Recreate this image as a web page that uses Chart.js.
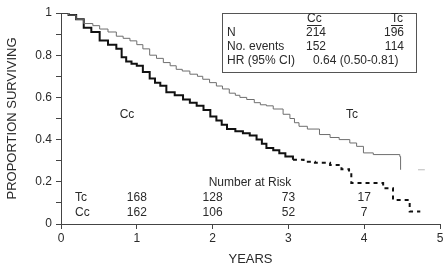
<!DOCTYPE html>
<html>
<head>
<meta charset="utf-8">
<script src="https://cdn.jsdelivr.net/npm/chart.js@4/dist/chart.umd.min.js"></script>
<style>
  html, body { margin: 0; padding: 0; background: #fff; }
  #wrap { width: 447px; height: 273px; }
</style>
</head>
<body>
<div id="wrap"><canvas id="myChart" width="447" height="273"></canvas></div>
<script>
'use strict';
// survival curves (years, proportion surviving), step points
const ccYears = [0, 0.1, 0.2, 0.3, 0.4, 0.51, 0.62, 0.73, 0.8, 0.86, 0.93, 1.0, 1.08, 1.17, 1.24, 1.31, 1.39, 1.5, 1.61, 1.7, 1.79, 1.88, 1.97, 2.05, 2.12, 2.19, 2.3, 2.4, 2.49, 2.58, 2.65, 2.71, 2.8, 2.88, 2.96, 3.06, 3.2, 3.35, 3.55, 3.7, 3.8, 3.83, 4.25, 4.38, 4.6, 4.74];
const ccSurv = [1, 0.99, 0.97, 0.93, 0.91, 0.87, 0.85, 0.83, 0.79, 0.77, 0.76, 0.75, 0.72, 0.69, 0.67, 0.655, 0.625, 0.61, 0.59, 0.575, 0.56, 0.54, 0.51, 0.49, 0.47, 0.45, 0.44, 0.43, 0.42, 0.4, 0.38, 0.36, 0.35, 0.335, 0.32, 0.305, 0.295, 0.29, 0.28, 0.26, 0.241, 0.194, 0.17, 0.114, 0.059, 0.059];
const tcYears = [0, 0.1, 0.2, 0.3, 0.42, 0.51, 0.62, 0.73, 0.82, 0.91, 1.0, 1.08, 1.17, 1.26, 1.35, 1.44, 1.52, 1.6, 1.7, 1.8, 1.87, 1.96, 2.05, 2.13, 2.22, 2.3, 2.36, 2.45, 2.55, 2.63, 2.71, 2.8, 2.93, 3.02, 3.08, 3.14, 3.25, 3.41, 3.55, 3.67, 3.81, 3.9, 3.99, 4.12, 4.47, 4.48];
const tcSurv = [1, 0.99, 0.97, 0.95, 0.94, 0.924, 0.91, 0.89, 0.88, 0.868, 0.85, 0.83, 0.8, 0.785, 0.765, 0.75, 0.733, 0.725, 0.71, 0.7, 0.686, 0.67, 0.654, 0.64, 0.62, 0.61, 0.6, 0.59, 0.575, 0.565, 0.56, 0.545, 0.52, 0.5, 0.48, 0.463, 0.45, 0.424, 0.41, 0.4, 0.384, 0.368, 0.337, 0.329, 0.32, 0.257];
const tcTailYears = [4.71, 4.8];
const tcTailSurv = [0.257, 0.257];

// number at risk
const riskYears = [1, 2, 3, 4];
const riskTc = [168, 128, 73, 17];
const riskCc = [162, 106, 52, 7];

// summary table
const tableCols = ['Cc', 'Tc'];
const tableRows = ['N', 'No. events', 'HR (95% CI)'];
const tableCc = ['214', '152'];
const tableTc = ['196', '114'];
const hrText = '0.64 (0.50-0.81)';

const dashFrom = 3.06;
const font = '"Liberation Sans", Arial, sans-serif';
const ink = '#2a2a2a';

function toPoints(xs, ys) {
  return xs.map((x, i) => ({ x: x, y: ys[i] }));
}

const textPlugin = {
  id: 'annot',
  afterDraw(chart) {
    const ctx = chart.ctx;
    const xs = chart.scales.x;
    ctx.save();
    ctx.fillStyle = ink;
    ctx.strokeStyle = '#555';
    ctx.font = '12px ' + font;
    ctx.textBaseline = 'middle';

    // table box
    ctx.lineWidth = 1;
    ctx.strokeRect(222.5, 13.5, 194, 59);
    ctx.textAlign = 'left';
    ctx.fillText(tableCols[0], 307, 19);
    ctx.textAlign = 'right';
    ctx.fillText(tableCols[1], 403, 19);
    ctx.beginPath();
    ctx.moveTo(307, 25.5); ctx.lineTo(307 + ctx.measureText(tableCols[0]).width, 25.5);
    ctx.moveTo(403 - ctx.measureText(tableCols[1]).width, 25.5); ctx.lineTo(403, 25.5);
    ctx.strokeStyle = ink;
    ctx.stroke();
    const rowY = [33, 47, 61];
    tableRows.forEach((r, i) => {
      ctx.textAlign = 'left';
      ctx.fillText(r, 227, rowY[i]);
    });
    tableCc.forEach((v, i) => {
      ctx.textAlign = 'left';
      ctx.fillText(v, 306, rowY[i]);
    });
    tableTc.forEach((v, i) => {
      ctx.textAlign = 'right';
      ctx.fillText(v, 404, rowY[i]);
    });
    ctx.textAlign = 'left';
    ctx.fillText(hrText, 313, rowY[2]);

    // curve labels
    ctx.textAlign = 'center';
    ctx.fillText('Cc', 127, 115);
    ctx.fillText('Tc', 352, 115);

    // number at risk
    ctx.fillText('Number at Risk', 250, 183);
    ctx.textAlign = 'left';
    ctx.fillText('Tc', 75, 198);
    ctx.fillText('Cc', 75, 213);
    ctx.textAlign = 'center';
    riskYears.forEach((yr, i) => {
      const px = xs.getPixelForValue(yr);
      ctx.fillText(String(riskTc[i]), px, 198);
      ctx.fillText(String(riskCc[i]), px, 213);
    });
    ctx.restore();
  }
};

let ctx = document.getElementById('myChart').getContext('2d');
let chart = new Chart(ctx, {
  type: 'line',
  data: {
    datasets: [
      {
        label: 'Tc',
        data: toPoints(tcYears, tcSurv),
        borderColor: '#6e6e6e',
        borderWidth: 1,
        stepped: true,
        pointRadius: 0
      },
      {
        label: 'Tc tail',
        data: toPoints(tcTailYears, tcTailSurv),
        borderColor: '#bbbbbb',
        borderWidth: 1,
        pointRadius: 0
      },
      {
        label: 'Cc',
        data: toPoints(ccYears, ccSurv),
        borderColor: '#111',
        borderWidth: 2,
        stepped: true,
        pointRadius: 0,
        segment: {
          borderDash: c => (c.p0.parsed.x >= dashFrom ? [4, 4] : undefined)
        }
      }
    ]
  },
  plugins: [textPlugin],
  options: {
    responsive: false,
    animation: false,
    layout: { padding: { top: 13, right: 7, left: 0, bottom: 0 } },
    plugins: { legend: { display: false }, tooltip: { enabled: false } },
    scales: {
      x: {
        type: 'linear',
        min: 0,
        max: 5,
        afterFit: s => { s.height = 49; },
        border: { display: true, color: '#444', width: 1 },
        grid: { display: true, drawOnChartArea: false, drawTicks: true, tickLength: 5, color: '#444' },
        ticks: { stepSize: 1, color: ink, padding: 2, font: { family: font, size: 12 }, maxRotation: 0 },
        title: { display: true, text: 'YEARS', color: ink, font: { family: font, size: 13 }, padding: { top: 4, bottom: 6 } }
      },
      y: {
        min: 0,
        max: 1,
        afterFit: s => { s.width = 61; },
        border: { display: true, color: '#444', width: 1 },
        grid: { display: true, drawOnChartArea: false, drawTicks: true, tickLength: 5, color: '#444' },
        ticks: {
          stepSize: 0.1,
          color: ink,
          padding: 4,
          autoSkip: false,
          font: { family: font, size: 12 },
          callback: v => (Math.round(v * 10) % 2 === 0 ? String(Math.round(v * 10) / 10) : '')
        },
        title: { display: true, text: 'PROPORTION SURVIVING', color: ink, font: { family: font, size: 13 }, padding: { top: 5, bottom: 0 } }
      }
    }
  }
});
</script>
</body>
</html>
